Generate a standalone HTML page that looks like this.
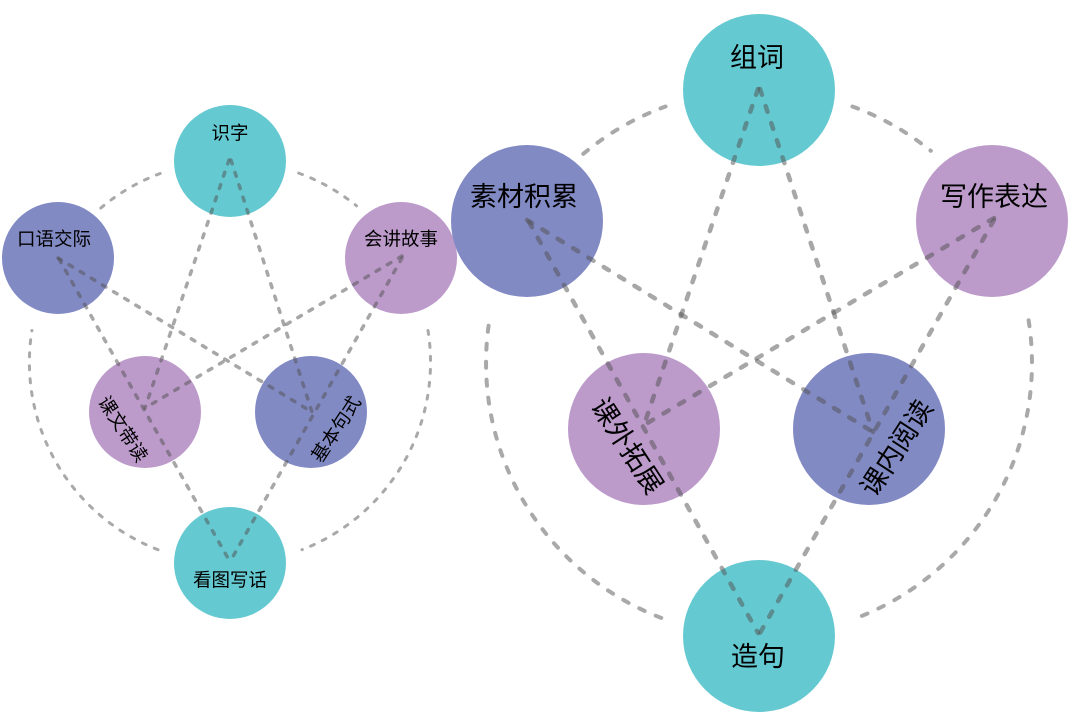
<!DOCTYPE html>
<html><head><meta charset="utf-8"><style>
html,body{margin:0;padding:0;background:#fff;}
svg{display:block;}
text{font-family:"Liberation Sans","Noto Sans CJK SC",sans-serif;fill:#000;text-anchor:middle;dominant-baseline:central;}
</style></head><body>
<svg width="1071" height="716" viewBox="0 0 1071 716" xmlns="http://www.w3.org/2000/svg">
<g fill="none" stroke="#a9a9a9" stroke-linecap="round">
<g stroke-width="3" stroke-dasharray="4 9">
<path d="M298.7 173.1 A201 201 0 0 1 356.5 205.8"/>
<path d="M428.0 330.5 A201 201 0 0 1 302.0 549.7"/>
<path d="M158.0 549.7 A201 201 0 0 1 31.9 330.5"/>
<path d="M100.8 208.0 A201 201 0 0 1 161.3 173.1"/>
</g>
<g stroke-width="4" stroke-dasharray="6 12">
<path d="M852.4 106.5 A273 273 0 0 1 930.8 150.8"/>
<path d="M1028.6 320.3 A273 273 0 0 1 856.8 617.9"/>
<path d="M661.2 617.9 A273 273 0 0 1 489.4 320.3"/>
<path d="M583.3 153.8 A273 273 0 0 1 665.6 106.5"/>
</g>
</g>
<g>
<circle cx="230" cy="161" r="56" fill="#65c9d1"/>
<circle cx="58" cy="258" r="56" fill="#828ac4"/>
<circle cx="401" cy="258" r="56" fill="#bc9bcb"/>
<circle cx="145" cy="412" r="56" fill="#bc9bcb"/>
<circle cx="311" cy="412" r="56" fill="#828ac4"/>
<circle cx="230" cy="563" r="56" fill="#65c9d1"/>
<circle cx="759" cy="90" r="76" fill="#65c9d1"/>
<circle cx="527" cy="221" r="76" fill="#828ac4"/>
<circle cx="992" cy="221" r="76" fill="#bc9bcb"/>
<circle cx="644" cy="429" r="76" fill="#bc9bcb"/>
<circle cx="869" cy="429" r="76" fill="#828ac4"/>
<circle cx="759" cy="636" r="76" fill="#65c9d1"/>
</g>
<g fill="none" stroke="rgba(80,80,80,0.5)" stroke-linecap="round">
<g stroke-width="3.5" stroke-dasharray="4 9">
<line x1="229" y1="160" x2="145" y2="408"/>
<line x1="231" y1="160" x2="312" y2="412"/>
<line x1="58" y1="258" x2="312" y2="412"/>
<line x1="59" y1="259" x2="229" y2="560"/>
<line x1="402" y1="256" x2="145" y2="408"/>
<line x1="402" y1="258" x2="231" y2="560"/>
</g>
<g stroke-width="4.5" stroke-dasharray="6 12">
<line x1="758" y1="89" x2="644" y2="425"/>
<line x1="760" y1="89" x2="873" y2="432"/>
<line x1="527" y1="220" x2="873" y2="432"/>
<line x1="529" y1="222" x2="758" y2="633"/>
<line x1="994" y1="218" x2="644" y2="425"/>
<line x1="994" y1="220" x2="760" y2="633"/>
</g>
</g>
<g font-size="18.5">
<text x="230" y="133">识字</text>
<text x="54" y="239">口语交际</text>
<text x="401" y="239">会讲故事</text>
<text x="230" y="580">看图写话</text>
<text transform="translate(123,429) rotate(57)" x="0" y="0">课文带读</text>
<text transform="translate(336,429) rotate(-57)" x="0" y="0">基本句式</text>
</g>
<g font-size="27">
<text x="757" y="58">组词</text>
<text x="524" y="197">素材积累</text>
<text x="994" y="197">写作表达</text>
<text x="758" y="657">造句</text>
<text transform="translate(627,446) rotate(57)" x="0" y="0">课外拓展</text>
<text transform="translate(897,448) rotate(-57)" x="0" y="0">课内阅读</text>
</g>
</svg>
</body></html>
